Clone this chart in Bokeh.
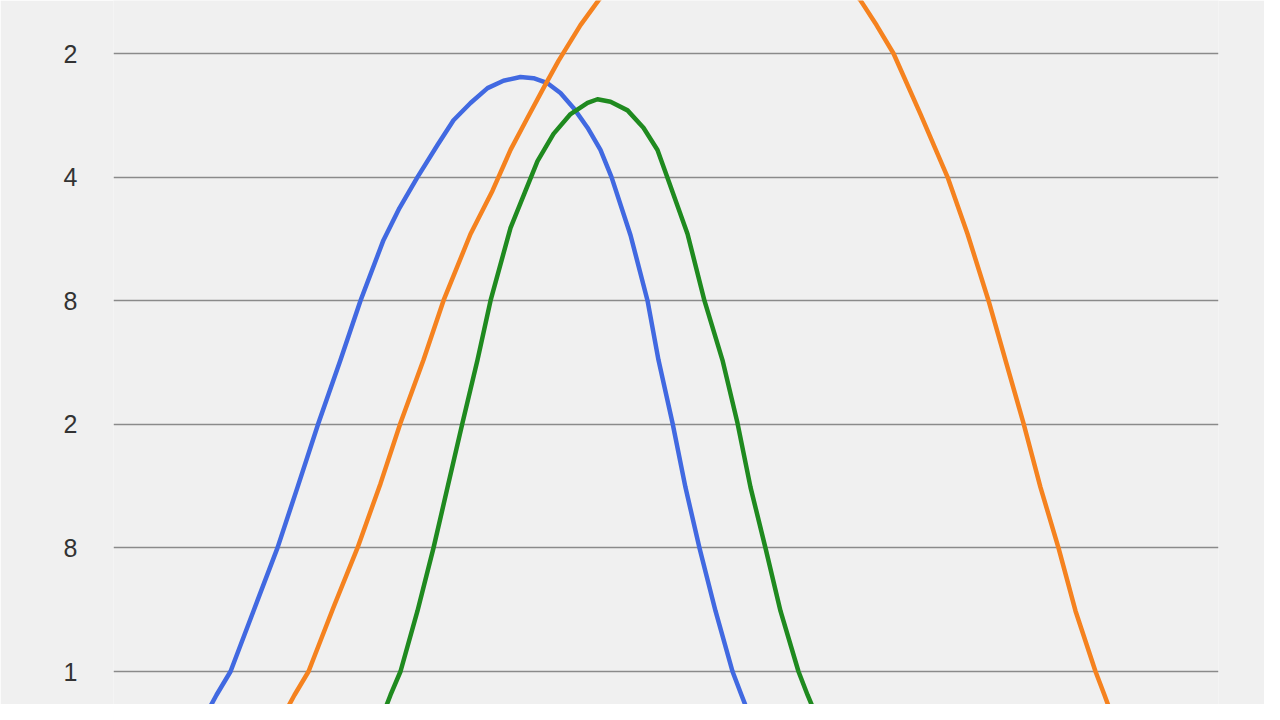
from bokeh.plotting import figure
from bokeh.models import Range1d, FixedTicker
from bokeh.embed import file_html
from bokeh.resources import INLINE

# ---- data ----
Y_TICKS = [0, 1, 2, 3, 4, 5]
Y_LABELS = ["1", "8", "2", "8", "4", "2"]

blue_x = [8.05, 9.32, 10.59, 12.67, 14.84, 16.65, 18.55, 20.54, 22.35, 24.43,
          25.88, 27.51, 29.32, 30.77, 32.31, 33.85, 35.29, 36.83, 38.01, 39.28,
          40.45, 41.63, 42.90, 44.07, 45.07, 46.79, 48.33, 49.32, 50.59, 51.76,
          53.03, 54.48, 56.02, 56.83, 57.74]
blue_y = [-0.40, -0.19, 0.00, 0.49, 1.00, 1.49, 2.01, 2.52, 3.00, 3.49,
          3.75, 4.00, 4.26, 4.46, 4.60, 4.72, 4.78, 4.81, 4.80, 4.76,
          4.68, 4.56, 4.40, 4.22, 4.00, 3.53, 3.00, 2.52, 2.01, 1.49,
          1.00, 0.49, 0.00, -0.19, -0.40]

orange_x = [15.11, 16.38, 17.65, 19.91, 22.08, 24.16, 25.97, 28.05, 29.86, 32.31,
            34.30, 35.93, 37.47, 38.91, 40.27, 42.26, 43.89, 47.69, 51.31, 55.75,
            60.36, 63.98, 67.60, 69.05, 70.59, 73.03, 75.48, 77.29, 79.19, 80.72,
            82.35, 83.89, 85.52, 87.06, 88.87, 89.68, 90.50]
orange_y = [-0.40, -0.19, 0.00, 0.52, 1.00, 1.52, 2.01, 2.52, 3.00, 3.54,
            3.89, 4.22, 4.48, 4.72, 4.94, 5.23, 5.43, 5.82, 6.05, 6.15,
            6.04, 5.80, 5.43, 5.23, 5.00, 4.51, 4.00, 3.54, 3.00, 2.52,
            2.01, 1.49, 1.00, 0.49, 0.00, -0.19, -0.39]

green_x = [24.16, 25.07, 25.97, 27.51, 28.96, 30.23, 31.58, 32.94, 34.12, 35.93,
           37.29, 38.37, 39.82, 41.36, 42.90, 43.80, 44.98, 46.52, 47.96, 49.23,
           50.23, 51.95, 53.48, 55.11, 56.47, 57.65, 59.00, 60.36, 61.99, 62.81,
           63.71]
green_y = [-0.40, -0.19, 0.00, 0.49, 1.00, 1.49, 2.01, 2.52, 3.00, 3.59,
           3.89, 4.13, 4.35, 4.51, 4.60, 4.63, 4.61, 4.54, 4.40, 4.22,
           3.97, 3.54, 3.00, 2.52, 2.01, 1.49, 1.00, 0.49, 0.00, -0.19,
           -0.38]

SERIES = [
    (blue_x, blue_y, "#4169e1"),
    (orange_x, orange_y, "#f5821f"),
    (green_x, green_y, "#1f8a1f"),
]

BG = "#f0f0f0"

p = figure(width=1264, height=704, output_backend="svg", toolbar_location=None,
           x_range=Range1d(0, 100), y_range=Range1d(-0.267, 5.429))
p.min_border_left = 113
p.min_border_right = 46
p.min_border_top = 0
p.min_border_bottom = 0
p.background_fill_color = BG
p.border_fill_color = BG
p.outline_line_color = None

p.xaxis.visible = False
p.xgrid.visible = False

p.yaxis.ticker = FixedTicker(ticks=Y_TICKS)
p.yaxis.major_label_overrides = {t: lab for t, lab in zip(Y_TICKS, Y_LABELS)}
p.yaxis.axis_line_color = None
p.yaxis.major_tick_line_color = None
p.yaxis.minor_tick_line_color = None
p.yaxis.major_label_standoff = 30
p.yaxis.major_label_text_font = "Liberation Sans"
p.yaxis.major_label_text_font_size = "25px"
p.yaxis.major_label_text_color = "#333333"

p.ygrid.ticker = FixedTicker(ticks=Y_TICKS)
p.ygrid.grid_line_color = "#8a8a8a"
p.ygrid.grid_line_width = 1.5

for xs, ys, col in SERIES:
    p.line(xs, ys, line_width=4.5, line_color=col, line_join="round", line_cap="round")

open("out.html", "w").write(file_html(p, INLINE))
